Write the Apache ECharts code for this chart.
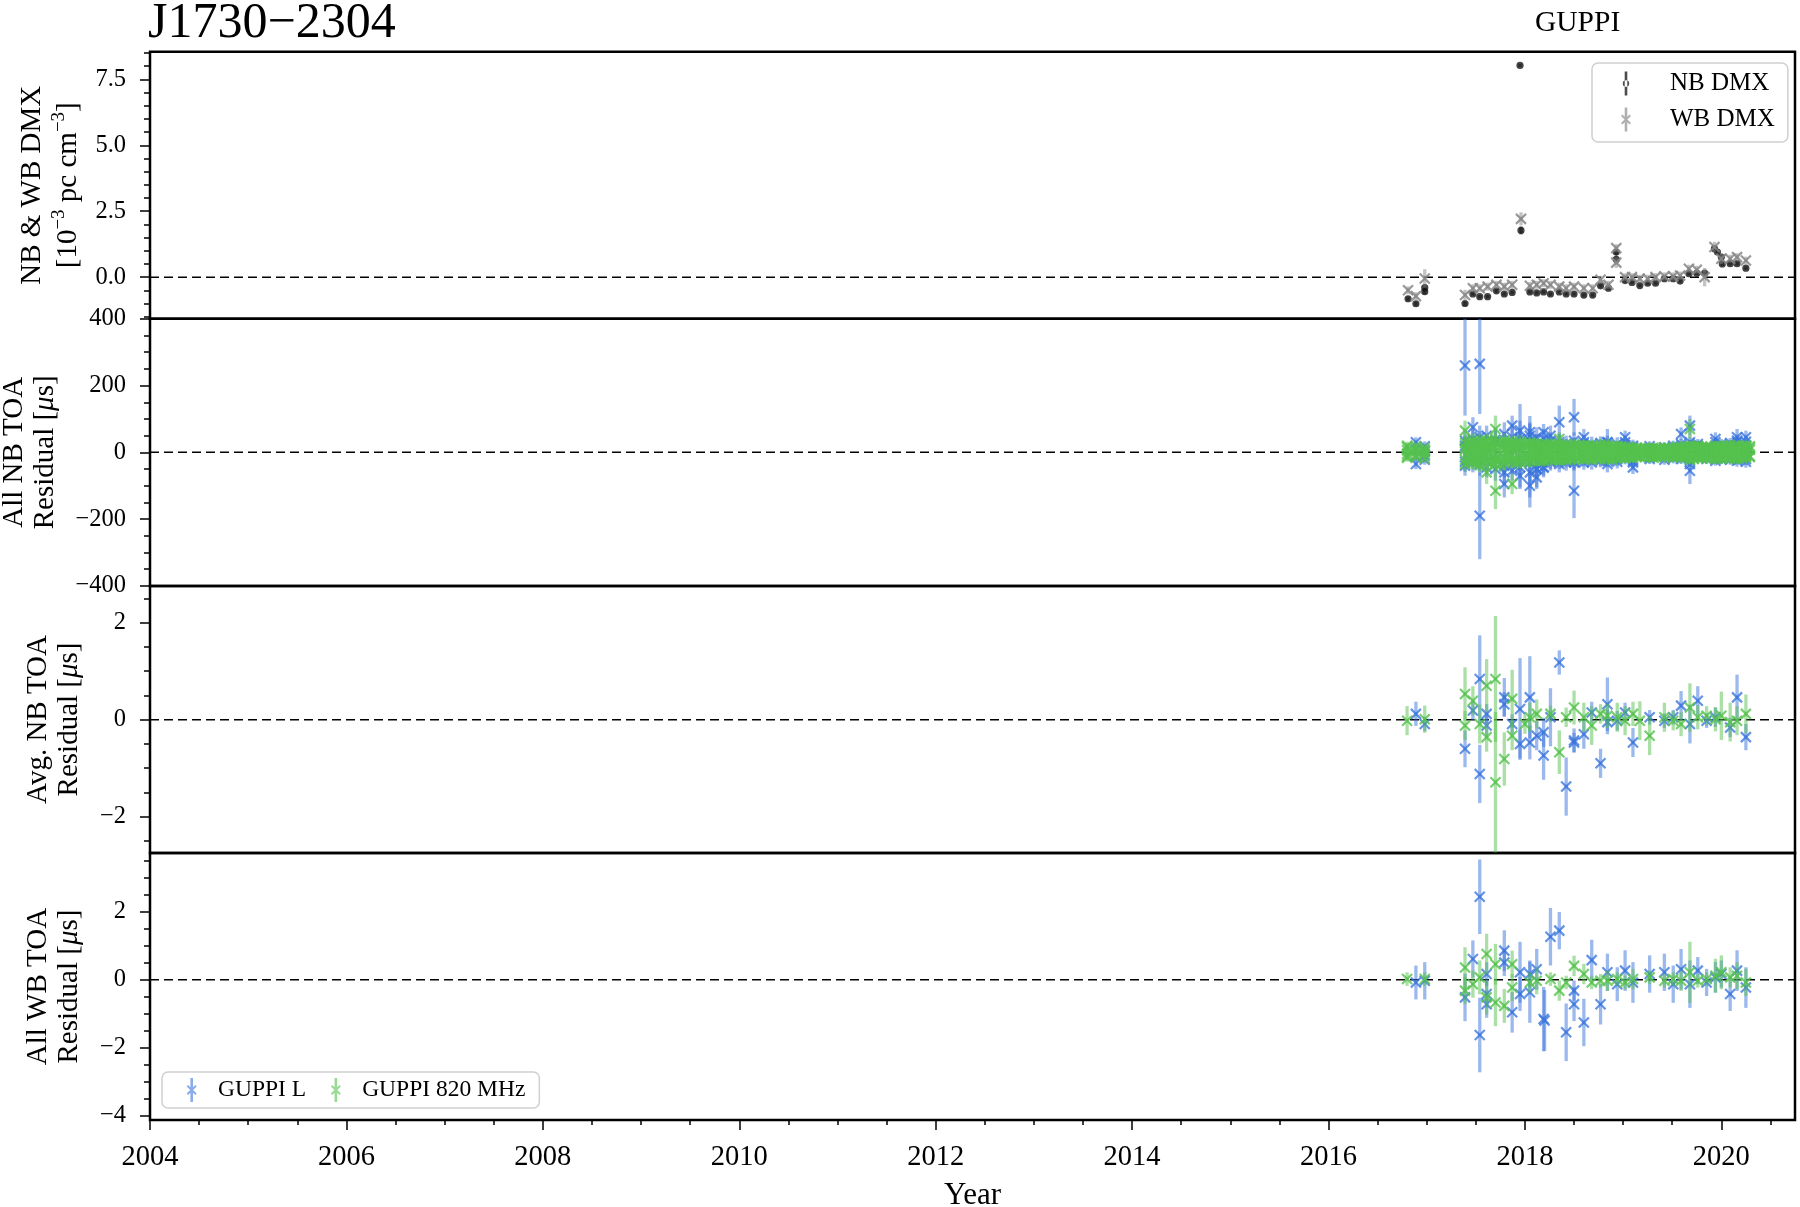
<!DOCTYPE html>
<html>
<head>
<meta charset="utf-8">
<script src="https://cdn.jsdelivr.net/npm/echarts@6/dist/echarts.min.js"></script>
<style>html,body{margin:0;padding:0;background:#fff}#chart{width:1800px;height:1207px}</style>
</head>
<body>
<div id="chart"></div>
<script>
// ---------------- DATA ----------------
const X_MIN = 2004, X_MAX = 2020.75;
const yearTicks = [2004, 2006, 2008, 2010, 2012, 2014, 2016, 2018, 2020];
const yearMinorTicks = [2004.5, 2005, 2005.5, 2006.5, 2007, 2007.5, 2008.5, 2009, 2009.5, 2010.5, 2011, 2011.5,
  2012.5, 2013, 2013.5, 2014.5, 2015, 2015.5, 2016.5, 2017, 2017.5, 2018.5, 2019, 2019.5, 2020.5];

const dmxTicks = [0, 2.5, 5, 7.5];
const dmxMinorTicks = [-1.5, -1, -0.5, 0.5, 1, 1.5, 2, 3, 3.5, 4, 4.5, 5.5, 6, 6.5, 7, 8, 8.5];
const avgTicks = [-2, 0, 2];
const avgMinorTicks = [-2.5, -1.5, -1, -0.5, 0.5, 1, 1.5, 2.5];
const wbTicks = [-4, -2, 0, 2];
const wbMinorTicks = [-3.5, -3, -2.5, -1.5, -1, -0.5, 0.5, 1, 1.5, 2.5, 3, 3.5];

// Panel 1: DMX [year, value, error]
const dmxNB = [
  [2016.81,-0.82,0.08],[2016.89,-1.01,0.08],[2016.98,-0.40,0.12],[2016.98,-0.55,0.10],
  [2017.39,-1.00,0.08],[2017.47,-0.64,0.06],[2017.54,-0.74,0.06],[2017.62,-0.74,0.06],
  [2017.71,-0.52,0.07],[2017.79,-0.64,0.06],[2017.87,-0.58,0.06],[2017.95,8.03,0.05],
  [2017.96,1.77,0.15],[2018.05,-0.56,0.06],[2018.12,-0.60,0.06],[2018.19,-0.56,0.06],
  [2018.26,-0.64,0.06],[2018.35,-0.56,0.06],[2018.42,-0.64,0.06],[2018.50,-0.64,0.06],
  [2018.60,-0.68,0.06],[2018.69,-0.68,0.06],[2018.77,-0.33,0.06],[2018.85,-0.42,0.06],
  [2018.93,0.95,0.12],[2018.93,0.67,0.10],[2019.02,-0.13,0.06],[2019.09,-0.20,0.06],
  [2019.17,-0.32,0.06],[2019.25,-0.23,0.06],[2019.33,-0.23,0.06],[2019.42,-0.06,0.06],
  [2019.51,-0.06,0.06],[2019.58,-0.15,0.06],[2019.67,0.13,0.06],[2019.75,0.15,0.06],
  [2019.83,0.15,0.06],[2019.93,1.08,0.10],[2019.96,0.95,0.10],[2020.00,0.76,0.08],
  [2020.01,0.50,0.08],[2020.09,0.51,0.06],[2020.16,0.51,0.06],[2020.25,0.34,0.06]
];
const dmxWB = [
  [2016.81,-0.50,0.15],[2016.89,-0.72,0.15],[2016.98,-0.05,0.35],[2017.39,-0.68,0.20],
  [2017.47,-0.42,0.15],[2017.54,-0.42,0.15],[2017.62,-0.36,0.15],[2017.71,-0.29,0.15],
  [2017.79,-0.36,0.15],[2017.87,-0.29,0.15],[2017.96,2.21,0.25],[2018.05,-0.33,0.15],
  [2018.12,-0.29,0.15],[2018.19,-0.23,0.15],[2018.26,-0.29,0.15],[2018.35,-0.36,0.15],
  [2018.42,-0.42,0.15],[2018.50,-0.36,0.15],[2018.60,-0.42,0.15],[2018.69,-0.42,0.15],
  [2018.77,-0.10,0.15],[2018.85,-0.29,0.15],[2018.93,1.10,0.15],[2018.93,0.55,0.20],
  [2019.02,0.00,0.15],[2019.09,0.00,0.15],[2019.17,-0.06,0.15],[2019.25,-0.06,0.15],
  [2019.33,0.00,0.15],[2019.42,0.03,0.15],[2019.51,0.03,0.15],[2019.58,0.06,0.15],
  [2019.67,0.32,0.15],[2019.75,0.28,0.15],[2019.83,0.00,0.35],[2019.93,1.14,0.20],
  [2020.00,0.70,0.20],[2020.09,0.70,0.15],[2020.16,0.76,0.15],[2020.25,0.63,0.15]
];

// Panel 2: all NB TOA residuals (us); per-epoch lists
const nbLEpochs = [2016.89,2016.98,2017.39,2017.47,2017.54,2017.61,2017.70,2017.79,2017.87,2017.95,
  2018.05,2018.12,2018.19,2018.26,2018.35,2018.42,2018.50,2018.60,2018.68,2018.77,2018.84,2018.94,
  2019.02,2019.10,2019.27,2019.42,2019.51,2019.59,2019.68,2019.76,2019.85,2019.94,2020.00,2020.09,
  2020.16,2020.25];
const nbLErr = [15,15,30,30,35,30,35,35,30,30,35,30,30,25,25,25,25,22,22,20,20,20,18,18,15,15,15,15,
  18,15,15,15,15,15,18,18];
const nbLRes = [
  [30,-35,8,-12],[18,-10,5,-22],[35,-28,12,-40,20],[40,-30,18,-15],[28,-35,45,-20],
  [50,-45,20,-25,10],[30,-50,38,-20],[55,-40,25,-60],[45,-35,15,-55],[40,-45,30,-20],
  [50,-60,35,-30],[45,-50,25,-35],[40,-45,20,-30],[35,-30,18,-25],[30,-25,12,-35],
  [25,-30,15,-20],[35,-30,20,-25],[30,-20,15,-30],[25,-30,10,-15],[28,-25,12,-20],
  [20,-25,30,-10],[25,-20,10,-28],[22,-18,30,-12],[20,-25,15,-30],[18,-20,10,-15],
  [15,-22,8,-12],[20,-18,12,-10],[25,-20,15,-12],[30,-25,20,-35],[20,-15,25,-10],
  [15,-20,10,0],[30,-25,20,-15],[25,-20,15,-18],[28,-22,18,-15],[30,-25,35,-18],[32,-28,20,-20]
];
const nbLExtra = [
  [2017.39,260,150],[2017.54,265,150],[2017.54,-190,130],[2017.47,75,30],[2017.79,-95,40],
  [2017.87,80,30],[2017.95,20,125],[2017.95,65,30],[2017.95,-70,40],[2018.05,-28,137],
  [2018.05,-100,35],[2018.05,60,30],[2018.12,-75,30],[2018.12,-50,60],[2018.19,-45,25],
  [2018.19,60,25],[2018.26,50,30],[2018.35,90,50],[2018.50,105,55],[2018.50,-115,82],
  [2018.60,45,25],[2018.84,30,40],[2018.84,-35,25],[2019.02,45,20],[2019.10,-45,20],
  [2019.59,55,20],[2019.68,80,30],[2019.68,-55,40],[2019.94,40,20],[2020.16,45,25],[2020.25,45,20]
];
const nb820Epochs = [2016.80,2016.89,2016.98,2017.39,2017.43,2017.47,2017.51,2017.54,2017.58,2017.61,
  2017.66,2017.70,2017.75,2017.79,2017.83,2017.87,2017.91,2017.95,2018.00,2018.05,2018.09,2018.12,
  2018.16,2018.19,2018.23,2018.26,2018.31,2018.35,2018.39,2018.42,2018.46,2018.50,2018.55,2018.60,
  2018.64,2018.68,2018.73,2018.77,2018.81,2018.84,2018.89,2018.94,2018.98,2019.02,2019.06,2019.10,
  2019.14,2019.17,2019.22,2019.27,2019.31,2019.34,2019.38,2019.42,2019.46,2019.51,2019.55,2019.59,
  2019.63,2019.68,2019.72,2019.76,2019.80,2019.85,2019.89,2019.94,2019.97,2020.00,2020.05,2020.09,
  2020.13,2020.16,2020.21,2020.25,2020.29];
const nb820Err = [12,12,12,22,22,22,22,22,22,22,22,24,22,22,20,20,20,20,18,18,18,18,18,17,17,17,16,16,
  16,16,16,16,15,15,15,15,15,15,15,15,14,14,14,13,13,13,12,12,12,12,12,12,12,12,12,12,13,13,13,14,14,
  14,14,14,14,14,14,14,14,14,14,14,14,14,14];
const nb820Res = [
  [-12,6,15,-4,20,-16],[9,-14,3,18,-7],[-5,14,-18,7,1],[28,-22,8,-35,15],[-12,30,-28,5,20],
  [18,-30,35,-6,-15],[-25,12,28,-32,3],[32,-18,-5,22,-38],[-8,26,-34,14,30],[20,-28,6,34,-14],
  [-30,10,25,-18,38],[15,-35,30,-10,-24],[-20,28,-4,18,-38],[25,-16,35,-30,8],[-10,22,-28,30,4],
  [30,-25,12,-8,20],[-22,18,28,-32,6],[14,-28,20,-12,32],[-18,25,-6,15,-30],[22,-14,28,-26,4],
  [-25,10,18,-8,26],[12,-22,25,-15,-2],[-15,20,-24,8,22],[20,-12,6,-26,15],[-8,24,-18,14,-22],
  [18,-20,10,-6,25],[-22,12,20,-14,4],[15,-18,24,-10,-24],[-12,20,-20,8,16],[22,-8,12,-22,2],
  [-16,18,-4,14,-20],[10,-22,20,-10,24],[-20,14,-12,22,4],[16,-16,8,-20,20],[-10,22,-18,6,12],
  [18,-12,14,-22,-2],[-14,20,-6,12,-18],[12,-20,22,-8,6],[-18,10,16,-14,24],[20,-14,4,-20,12],
  [-8,18,-16,10,-22],[14,-18,20,-4,8],[-16,12,-10,18,-2],[10,-14,16,-18,4],[-12,16,-6,10,-16],
  [14,-10,12,-16,2],[-10,14,-14,6,12],[12,-12,8,-4,-14],[-14,10,14,-8,2],[8,-12,12,-14,4],
  [-10,14,-6,8,-16],[12,-8,10,-12,2],[-12,10,-14,12,4],[10,-14,6,-8,14],[-8,12,-12,14,-2],
  [14,-10,8,-16,2],[-12,16,-4,10,-14],[12,-14,16,-6,6],[-16,10,18,-12,2],[20,-18,8,-22,14],
  [-14,18,-10,12,-20],[16,-12,20,-16,4],[-10,14,-18,8,16],[12,-16,6,-10,18],[-18,12,16,-14,2],
  [14,-20,10,-8,20],[-12,18,-16,12,4],[18,-14,8,-20,12],[-16,12,20,-10,-4],[10,-18,14,-12,22],
  [-14,20,-8,16,-18],[20,-12,12,-20,4],[-18,14,-4,18,-12],[16,-16,22,-10,2],[-12,18,-14,8,14]
];
const nb820Extra = [
  [2017.39,65,30],[2017.70,-115,55],[2017.70,70,40],[2017.87,-95,30],[2017.61,-60,35],
  [2019.68,70,30],[2018.35,40,20]
];

// Panel 3: averaged NB residuals (us)
const avgL = [
  [2016.89,0.12,0.25],[2016.98,-0.09,0.15],[2017.39,-0.60,0.38],[2017.47,0.19,0.20],
  [2017.54,0.84,0.90],[2017.54,-1.12,0.60],[2017.61,0.12,0.20],[2017.61,-0.12,0.20],
  [2017.79,0.46,0.40],[2017.79,0.32,0.25],[2017.87,-0.09,0.20],[2017.95,0.22,1.05],
  [2017.95,-0.50,0.30],[2018.05,0.46,0.85],[2018.05,-0.47,0.35],[2018.12,-0.33,0.30],
  [2018.19,-0.74,0.50],[2018.19,-0.26,0.30],[2018.26,0.05,0.60],[2018.35,1.18,0.25],
  [2018.42,-1.38,0.60],[2018.50,-0.47,0.20],[2018.50,-0.43,0.25],[2018.60,-0.30,0.30],
  [2018.68,0.15,0.22],[2018.77,-0.90,0.30],[2018.84,0.32,0.55],[2018.84,-0.05,0.25],
  [2018.94,-0.02,0.20],[2019.02,0.15,0.20],[2019.10,-0.47,0.30],[2019.27,0.05,0.15],
  [2019.42,-0.02,0.15],[2019.51,0.05,0.15],[2019.59,0.29,0.30],[2019.68,-0.09,0.40],
  [2019.76,0.39,0.30],[2019.85,-0.02,0.15],[2019.94,0.05,0.20],[2020.09,-0.16,0.20],
  [2020.16,0.46,0.47],[2020.25,-0.36,0.27]
];
const avg820 = [
  [2016.80,-0.02,0.30],[2016.98,0.01,0.28],[2017.39,0.53,0.55],[2017.39,-0.12,0.30],
  [2017.47,0.39,0.30],[2017.54,-0.09,0.40],[2017.61,0.70,0.55],[2017.61,-0.36,0.30],
  [2017.70,0.84,1.30],[2017.70,-1.29,1.45],[2017.79,-0.81,0.55],[2017.87,0.43,0.60],
  [2017.87,-0.33,0.30],[2018.00,-0.09,0.20],[2018.05,0.05,0.30],[2018.12,0.12,0.30],
  [2018.26,0.12,0.17],[2018.35,-0.67,0.45],[2018.42,0.05,0.20],[2018.50,0.25,0.35],
  [2018.60,0.05,0.30],[2018.68,-0.12,0.40],[2018.77,0.12,0.20],[2018.84,0.08,0.25],
  [2018.94,0.05,0.30],[2019.02,-0.02,0.30],[2019.10,0.12,0.25],[2019.17,-0.02,0.40],
  [2019.27,-0.33,0.40],[2019.42,0.05,0.30],[2019.51,-0.02,0.20],[2019.59,-0.09,0.25],
  [2019.68,0.25,0.50],[2019.76,0.05,0.25],[2019.85,0.08,0.20],[2019.94,0.01,0.25],
  [2020.00,0.08,0.50],[2020.09,-0.05,0.40],[2020.16,-0.02,0.30],[2020.25,0.12,0.40]
];

// Panel 4: all WB residuals (us)
const wbL = [
  [2016.89,-0.08,0.50],[2016.98,-0.03,0.55],[2017.39,-0.52,0.70],[2017.47,0.61,0.55],
  [2017.54,2.45,1.10],[2017.54,-1.63,1.10],[2017.61,0.17,0.35],[2017.61,-0.42,0.40],
  [2017.61,-0.72,0.40],[2017.79,0.86,0.60],[2017.79,0.51,0.40],[2017.87,-0.96,0.60],
  [2017.95,0.22,0.90],[2017.95,-0.42,0.50],[2018.05,-0.37,0.90],[2018.05,0.17,0.40],
  [2018.12,0.31,0.60],[2018.19,-1.16,0.95],[2018.20,-1.20,0.90],[2018.26,1.27,0.85],
  [2018.35,1.45,0.55],[2018.42,-1.55,0.85],[2018.50,-0.72,0.50],[2018.50,-0.32,0.30],
  [2018.60,-1.26,0.70],[2018.68,0.58,0.60],[2018.77,-0.72,0.60],[2018.84,0.22,0.55],
  [2018.94,-0.13,0.50],[2019.02,0.27,0.60],[2019.10,-0.08,0.60],[2019.27,0.17,0.55],
  [2019.42,0.22,0.55],[2019.51,-0.13,0.55],[2019.59,0.31,0.60],[2019.68,-0.13,0.70],
  [2019.76,0.27,0.40],[2019.85,-0.08,0.40],[2019.94,0.07,0.45],[2020.00,0.17,0.40],
  [2020.09,-0.42,0.50],[2020.16,0.27,0.60],[2020.25,-0.23,0.60]
];
const wb820 = [
  [2016.80,0.02,0.20],[2016.98,0.02,0.20],[2017.39,0.36,0.60],[2017.39,-0.32,0.40],
  [2017.47,-0.13,0.40],[2017.54,0.07,0.50],[2017.61,0.76,0.60],[2017.61,-0.52,0.50],
  [2017.70,0.46,0.60],[2017.70,-0.67,0.70],[2017.79,-0.77,0.50],[2017.87,0.46,0.40],
  [2017.87,-0.23,0.40],[2018.05,-0.08,0.30],[2018.12,-0.03,0.40],[2018.26,0.02,0.20],
  [2018.35,-0.32,0.30],[2018.42,-0.08,0.20],[2018.50,0.41,0.30],[2018.60,0.17,0.30],
  [2018.68,-0.08,0.20],[2018.77,-0.03,0.20],[2018.84,-0.03,0.30],[2018.94,0.02,0.20],
  [2019.02,-0.08,0.20],[2019.10,0.02,0.30],[2019.27,0.07,0.20],[2019.42,-0.03,0.20],
  [2019.51,0.02,0.20],[2019.59,-0.03,0.30],[2019.68,0.22,0.90],[2019.76,-0.03,0.20],
  [2019.85,0.02,0.20],[2019.94,0.12,0.50],[2020.00,0.22,0.50],[2020.09,0.07,0.30],
  [2020.16,0.12,0.40],[2020.25,-0.08,0.40]
];

// ---------------- CHART ----------------
const FONT = "'Liberation Serif', 'DejaVu Serif', serif";
const C = {
  nbBar: 'rgba(20,20,20,0.55)', nbMark: 'rgba(20,20,20,0.8)',
  wbBar: 'rgba(135,135,135,0.5)', wbMark: 'rgba(135,135,135,0.85)',
  lBar: 'rgba(58,116,220,0.5)', lMark: 'rgba(58,116,220,0.78)',
  gBar: 'rgba(85,194,77,0.5)', gMark: 'rgba(85,194,77,0.8)'
};

function expand(epochs, res, errs, extra) {
  const out = [];
  epochs.forEach((t, i) => res[i].forEach(v => out.push([t, v, errs[i]])));
  return out.concat(extra || []);
}

function makeRender(barColor, markColor, shape) {
  return function (params, api) {
    const cs = params.coordSys;
    const x = api.value(0), y = api.value(1), e = api.value(2);
    const p = api.coord([x, y]);
    const a = api.coord([x, y + e]);
    const b = api.coord([x, y - e]);
    const top = Math.max(cs.y, a[1]);
    const bot = Math.min(cs.y + cs.height, b[1]);
    const ch = [];
    if (bot > top) ch.push({type: 'line', shape: {x1: p[0], y1: top, x2: p[0], y2: bot},
      style: {stroke: barColor, lineWidth: 3.3}});
    if (p[1] >= cs.y && p[1] <= cs.y + cs.height) {
      if (shape === 'x') {
        const s = 5;
        ch.push({type: 'line', shape: {x1: p[0]-s, y1: p[1]-s, x2: p[0]+s, y2: p[1]+s}, style: {stroke: markColor, lineWidth: 2.2}});
        ch.push({type: 'line', shape: {x1: p[0]-s, y1: p[1]+s, x2: p[0]+s, y2: p[1]-s}, style: {stroke: markColor, lineWidth: 2.2}});
      } else {
        ch.push({type: 'circle', shape: {cx: p[0], cy: p[1], r: 3.6}, style: {fill: markColor}});
      }
    }
    return {type: 'group', children: ch};
  };
}

function errSeries(name, data, xi, yi, bar, mark, shape) {
  return {name, type: 'custom', xAxisIndex: xi, yAxisIndex: yi, data,
    dimensions: ['x', 'y', 'err'], encode: {x: 0, y: 1},
    itemStyle: {color: mark}, renderItem: makeRender(bar, mark, shape), z: 3, silent: true};
}
function zeroLine(xi, yi) {
  return {name: 'zero' + xi, type: 'line', xAxisIndex: xi, yAxisIndex: yi,
    data: [[X_MIN, 0], [X_MAX, 0]], showSymbol: false, symbol: 'none', silent: true, z: 1,
    lineStyle: {color: '#000', width: 1.5, type: [9, 5]}};
}

const tops = [51.7, 318.8, 585.9, 853.0];
const grids = tops.map(t => ({left: 150, width: 1645, top: t, height: 267.1, show: true,
  borderColor: '#000', borderWidth: 2.5, backgroundColor: 'transparent', containLabel: false,
  outerBoundsMode: 'none'}));

const tickStyle = {color: '#000', width: 1.5};
function xAx(i) {
  const bottom = i === 3;
  return {type: 'value', gridIndex: i, min: X_MIN, max: X_MAX, position: 'bottom',
    axisLine: {show: false, onZero: false}, splitLine: {show: false},
    axisTick: {show: bottom, customValues: yearTicks, length: 10, lineStyle: tickStyle},
    axisLabel: {show: bottom, customValues: yearTicks, fontSize: 28.5, fontFamily: FONT, color: '#000', margin: 23,
      formatter: v => String(v)},
    name: bottom ? 'Year' : '', nameLocation: 'middle', nameGap: 60, nameMoveOverlap: false,
    nameTextStyle: {fontSize: 31, fontFamily: FONT, color: '#000'}};
}
const xAxes = [xAx(0), xAx(1), xAx(2), xAx(3),
  {type: 'value', gridIndex: 3, min: X_MIN, max: X_MAX, position: 'bottom',
   axisLine: {show: false, onZero: false}, splitLine: {show: false},
   axisLabel: {show: false}, axisTick: {show: true, customValues: yearMinorTicks, length: 5, lineStyle: tickStyle}}];

function nameStyle(lh) {
  return {fontSize: 29, fontFamily: FONT, color: '#000', lineHeight: lh,
    rich: {sup: {fontSize: 19, fontFamily: FONT, color: '#000', verticalAlign: 'top', lineHeight: 24},
           it: {fontSize: 29, fontFamily: FONT, color: '#000', fontStyle: 'italic', lineHeight: lh}}};
}
const minus = v => String(v).replace('-', '\u2212');
function yMain(gi, min, max, name, gap, lh, ticks, fmt, extra) {
  const ax = {type: 'value', gridIndex: gi, min, max, position: 'left',
    axisLine: {show: false, onZero: false}, splitLine: {show: false},
    axisTick: {show: true, length: 10, lineStyle: tickStyle},
    axisLabel: {fontSize: 24.5, fontFamily: FONT, color: '#000', margin: 24, formatter: fmt},
    name, nameLocation: 'middle', nameRotate: 90, nameGap: gap, nameMoveOverlap: false,
    nameTextStyle: nameStyle(lh)};
  if (ticks) { ax.axisTick.customValues = ticks; ax.axisLabel.customValues = ticks; }
  return Object.assign(ax, extra || {});
}
function yMinor(gi, min, max, ticks) {
  return {type: 'value', gridIndex: gi, min, max, position: 'left', axisLine: {show: false, onZero: false},
    splitLine: {show: false}, axisLabel: {show: false},
    axisTick: {show: true, customValues: ticks, length: 6, lineStyle: tickStyle}};
}
const yAxes = [
  yMain(0, -1.58, 8.55, 'NB & WB DMX\n[10{sup|\u22123} pc cm{sup|\u22123}]', 64, 36, dmxTicks, v => minus(v.toFixed(1))),
  yMinor(0, -1.58, 8.55, dmxMinorTicks),
  yMain(1, -400, 400, 'All NB TOA\nResidual [{it|\u03bc}s]', 89, 31, null, v => minus(v),
    {interval: 200, minorTick: {show: true, splitNumber: 4, length: 6, lineStyle: tickStyle}}),
  yMain(2, -2.75, 2.76, 'Avg. NB TOA\nResidual [{it|\u03bc}s]', 65, 31, avgTicks, v => minus(v)),
  yMinor(2, -2.75, 2.76, avgMinorTicks),
  yMain(3, -4.14, 3.74, 'All WB TOA\nResidual [{it|\u03bc}s]', 65, 31, wbTicks, v => minus(v)),
  yMinor(3, -4.14, 3.74, wbMinorTicks)
];

// legend icons: bounding boxes sized to the legend item boxes (invisible corner points set the box)
const nbIcon = 'path://M-34,-12L-34,-11.99L-33.99,-12Z M39,12L39,11.99L38.99,12Z M-1.3,-12L1.3,-12L1.3,12L-1.3,12Z M-3.2,0A3.2,3.2,0,1,0,3.2,0A3.2,3.2,0,1,0,-3.2,0Z';
const wbIcon = 'path://M-34,-12L-34,-11.99L-33.99,-12Z M39,12L39,11.99L38.99,12Z M-1.3,-12L1.3,-12L1.3,12L-1.3,12Z M-5,-3.6L-3.6,-5L5,3.6L3.6,5Z M3.6,-5L5,-3.6L-3.6,5L-5,3.6Z';
const toaIcon = 'path://M-29.7,-12L-29.7,-11.99L-29.69,-12Z M21.3,12L21.3,11.99L21.29,12Z M-1.3,-12L1.3,-12L1.3,12L-1.3,12Z M-5,-3.6L-3.6,-5L5,3.6L3.6,5Z M3.6,-5L5,-3.6L-3.6,5L-5,3.6Z';

const series = [
  zeroLine(0, 0),
  errSeries('NB DMX', dmxNB, 0, 0, C.nbBar, C.nbMark, 'o'),
  errSeries('WB DMX', dmxWB, 0, 0, C.wbBar, C.wbMark, 'x'),
  zeroLine(1, 2),
  errSeries('GUPPI L', expand(nbLEpochs, nbLRes, nbLErr, nbLExtra), 1, 2, C.lBar, C.lMark, 'x'),
  errSeries('GUPPI 820 MHz', expand(nb820Epochs, nb820Res, nb820Err, nb820Extra), 1, 2, C.gBar, C.gMark, 'x'),
  zeroLine(2, 3),
  errSeries('GUPPI L', avgL, 2, 3, C.lBar, C.lMark, 'x'),
  errSeries('GUPPI 820 MHz', avg820, 2, 3, C.gBar, C.gMark, 'x'),
  zeroLine(3, 5),
  errSeries('GUPPI L', wbL, 3, 5, C.lBar, C.lMark, 'x'),
  errSeries('GUPPI 820 MHz', wb820, 3, 5, C.gBar, C.gMark, 'x')
];

const chart = echarts.init(document.getElementById('chart'), null, {renderer: 'canvas'});
chart.setOption({
  backgroundColor: '#fff',
  animation: false,
  title: [
    {text: 'J1730\u22122304', left: 148, top: -1, padding: 0,
     textStyle: {fontFamily: FONT, fontSize: 50, fontWeight: 'normal', color: '#000'}},
    {text: 'GUPPI', left: 1535, top: 8, padding: 0,
     textStyle: {fontFamily: FONT, fontSize: 29.5, fontWeight: 'normal', color: '#000'}}
  ],
  legend: [
    {orient: 'vertical', left: 1592, top: 63, width: 191, padding: [8, 13, 10, 0], itemWidth: 73, itemHeight: 24, itemGap: 11,
     backgroundColor: 'rgba(255,255,255,0.85)', borderColor: '#d0d0d0', borderWidth: 1.5, borderRadius: 6,
     selectedMode: false, symbolKeepAspect: true,
     textStyle: {fontFamily: FONT, fontSize: 25, color: '#000'},
     data: [{name: 'NB DMX', icon: nbIcon, itemStyle: {color: 'rgba(30,30,30,0.8)'}},
            {name: 'WB DMX', icon: wbIcon, itemStyle: {color: 'rgba(150,150,150,0.75)'}}]},
    {orient: 'horizontal', left: 162, top: 1072, padding: [6, 14, 6, 0], itemWidth: 51, itemHeight: 24, itemGap: 0,
     backgroundColor: 'rgba(255,255,255,0.85)', borderColor: '#d0d0d0', borderWidth: 1.5, borderRadius: 6,
     selectedMode: false, symbolKeepAspect: true,
     textStyle: {fontFamily: FONT, fontSize: 23.5, color: '#000'},
     data: [{name: 'GUPPI L', icon: toaIcon, itemStyle: {color: 'rgba(58,116,220,0.6)'}},
            {name: 'GUPPI 820 MHz', icon: toaIcon, itemStyle: {color: 'rgba(85,194,77,0.6)'}}]}
  ],
  grid: grids,
  xAxis: xAxes,
  yAxis: yAxes,
  series
});
</script>
</body>
</html>
